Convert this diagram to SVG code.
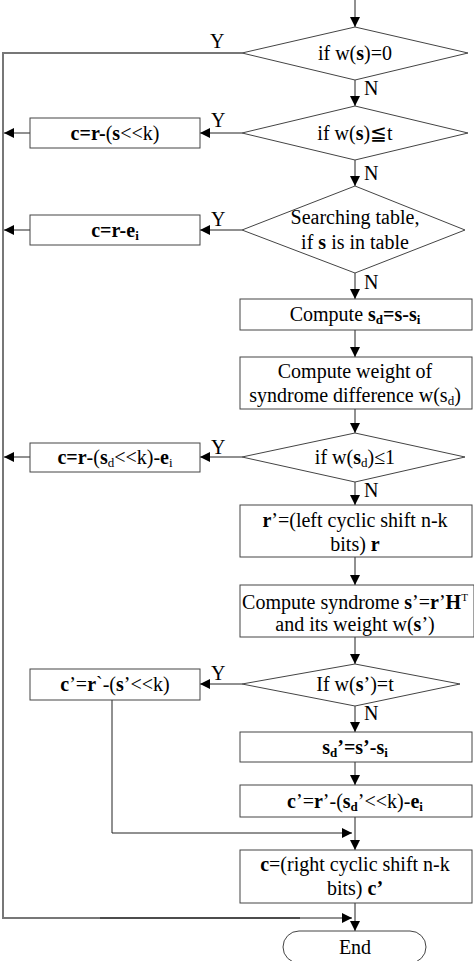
<svg xmlns="http://www.w3.org/2000/svg" width="474" height="961" viewBox="0 0 474 961">
<defs>
<marker id="ah" viewBox="0 0 10 10" refX="10" refY="5" markerWidth="10" markerHeight="10" markerUnits="userSpaceOnUse" orient="auto">
<path d="M0,0 L10,5 L0,10 z" fill="#000"/>
</marker>
</defs>
<style>
.n{fill:#fff;stroke:#444;stroke-width:1}
.t{font-family:"Liberation Serif",serif;font-size:20px;fill:#000;text-anchor:middle}
.l{font-family:"Liberation Serif",serif;font-size:20px;fill:#000}
.b{font-weight:bold}
.c{fill:none;stroke:#222;stroke-width:1}
.g{fill:none;stroke:#777;stroke-width:2}
</style>
<rect width="474" height="961" fill="#fff"/>
<g id="connectors">
<line class="c" x1="355" y1="0" x2="355" y2="27" marker-end="url(#ah)"/>
<polyline class="g" points="242,53 3,53 3,918 300,918"/>
<line class="c" x1="100" y1="918" x2="352" y2="918" marker-end="url(#ah)"/>
<line class="c" x1="355" y1="80" x2="355" y2="106" marker-end="url(#ah)"/>
<line class="c" x1="242" y1="133" x2="200" y2="133" marker-end="url(#ah)"/>
<line class="c" x1="30" y1="133" x2="4" y2="133" marker-end="url(#ah)"/>
<line class="c" x1="355" y1="160" x2="355" y2="186" marker-end="url(#ah)"/>
<line class="c" x1="242" y1="230" x2="200" y2="230" marker-end="url(#ah)"/>
<line class="c" x1="30" y1="230" x2="4" y2="230" marker-end="url(#ah)"/>
<line class="c" x1="355" y1="273" x2="355" y2="299" marker-end="url(#ah)"/>
<line class="c" x1="355" y1="330" x2="355" y2="357" marker-end="url(#ah)"/>
<line class="c" x1="355" y1="409" x2="355" y2="433" marker-end="url(#ah)"/>
<line class="c" x1="242" y1="457" x2="200" y2="457" marker-end="url(#ah)"/>
<line class="c" x1="30" y1="457" x2="4" y2="457" marker-end="url(#ah)"/>
<line class="c" x1="355" y1="482" x2="355" y2="505" marker-end="url(#ah)"/>
<line class="c" x1="355" y1="557" x2="355" y2="585" marker-end="url(#ah)"/>
<line class="c" x1="355" y1="637" x2="355" y2="664" marker-end="url(#ah)"/>
<line class="c" x1="242" y1="684" x2="200" y2="684" marker-end="url(#ah)"/>
<line class="c" x1="355" y1="706" x2="355" y2="732" marker-end="url(#ah)"/>
<line class="c" x1="355" y1="762" x2="355" y2="785" marker-end="url(#ah)"/>
<line class="c" x1="355" y1="817" x2="355" y2="850" marker-end="url(#ah)"/>
<polyline class="c" points="112,700 112,833 352,833" marker-end="url(#ah)"/>
<line class="c" x1="355" y1="903" x2="355" y2="931" marker-end="url(#ah)"/>
<text class="l" x="210" y="48">Y</text>
<text class="l" x="211" y="127">Y</text>
<text class="l" x="211" y="226">Y</text>
<text class="l" x="211" y="454">Y</text>
<text class="l" x="211" y="680">Y</text>
<text class="l" x="364" y="95">N</text>
<text class="l" x="364" y="180">N</text>
<text class="l" x="364" y="289">N</text>
<text class="l" x="364" y="497">N</text>
<text class="l" x="364" y="720">N</text>
</g>
<g id="d1">
<polygon class="n" points="242,53 355,27 468,53 355,80"/>
<text class="t" x="355" y="60">if w(<tspan class="b">s</tspan>)=0</text>
</g>
<g id="d2">
<polygon class="n" points="242,133 355,106 468,133 355,160"/>
<text class="t" x="355" y="140">if w(<tspan class="b">s</tspan>)≦t</text>
</g>
<g id="b1">
<rect class="n" x="30" y="118" width="170" height="30"/>
<text class="t" x="115" y="140"><tspan class="b">c=r-</tspan>(<tspan class="b">s</tspan>&lt;&lt;k)</text>
</g>
<g id="d3">
<polygon class="n" points="242,230 355,186 465,230 355,273"/>
<text class="t" x="355" y="224">Searching table,</text>
<text class="t" x="355" y="249">if <tspan class="b">s</tspan> is in table</text>
</g>
<g id="b2">
<rect class="n" x="30" y="215" width="170" height="30"/>
<text class="t" x="115" y="237"><tspan class="b">c=r-e<tspan font-size="13" dy="3">i</tspan></tspan></text>
</g>
<g id="p1">
<rect class="n" x="240" y="299" width="232" height="31"/>
<text class="t" x="355" y="321">Compute <tspan class="b">s<tspan font-size="13" dy="3">d</tspan><tspan dy="-3">=s-s</tspan><tspan font-size="13" dy="3">i</tspan></tspan></text>
</g>
<g id="p2">
<rect class="n" x="240" y="357" width="232" height="52"/>
<text class="t" x="355" y="378">Compute weight of</text>
<text class="t" x="355" y="402">syndrome difference w(s<tspan font-size="13" dy="3">d</tspan><tspan dy="-3">)</tspan></text>
</g>
<g id="d4">
<polygon class="n" points="242,457 355,433 465,457 355,482"/>
<text class="t" x="355" y="464">if w(<tspan class="b">s</tspan><tspan font-size="13" dy="3">d</tspan><tspan dy="-3">)≤1</tspan></text>
</g>
<g id="b3">
<rect class="n" x="30" y="443" width="170" height="29"/>
<text class="t" x="115" y="464"><tspan class="b">c=r</tspan>-(<tspan class="b">s</tspan><tspan font-size="13" dy="3">d</tspan><tspan dy="-3">&lt;&lt;k)-</tspan><tspan class="b">e</tspan><tspan font-size="13" dy="3">i</tspan></text>
</g>
<g id="p3">
<rect class="n" x="240" y="505" width="232" height="52"/>
<text class="t" x="355" y="527"><tspan class="b">r</tspan>’=(left cyclic shift n-k</text>
<text class="t" x="355" y="551">bits) <tspan class="b">r</tspan></text>
</g>
<g id="p4">
<rect class="n" x="240" y="585" width="234" height="52"/>
<text class="t" x="355" y="609">Compute syndrome <tspan class="b">s</tspan>’=<tspan class="b">r</tspan>’<tspan class="b">H</tspan><tspan font-size="11" dy="-8">T</tspan></text>
<text class="t" x="355" y="631">and its weight w(<tspan class="b">s</tspan>’)</text>
</g>
<g id="d5">
<polygon class="n" points="242,684 355,664 460,684 355,706"/>
<text class="t" x="355" y="691">If w(<tspan class="b">s</tspan>’)=t</text>
</g>
<g id="b4">
<rect class="n" x="30" y="669" width="170" height="31"/>
<text class="t" x="115" y="691"><tspan class="b">c</tspan>’=<tspan class="b">r</tspan>`-(<tspan class="b">s</tspan>’&lt;&lt;k)</text>
</g>
<g id="p5">
<rect class="n" x="240" y="732" width="232" height="30"/>
<text class="t b" x="355" y="754">s<tspan font-size="13" dy="3">d</tspan><tspan dy="-3">’=s’-s</tspan><tspan font-size="13" dy="3">i</tspan></text>
</g>
<g id="p6">
<rect class="n" x="240" y="785" width="232" height="32"/>
<text class="t" x="355" y="808"><tspan class="b">c</tspan>’=<tspan class="b">r</tspan>’-(<tspan class="b">s<tspan font-size="13" dy="3">d</tspan></tspan><tspan dy="-3">’&lt;&lt;k)-</tspan><tspan class="b">e</tspan><tspan class="b" font-size="13" dy="3">i</tspan></text>
</g>
<g id="p7">
<rect class="n" x="240" y="850" width="232" height="53"/>
<text class="t" x="355" y="871"><tspan class="b">c</tspan>=(right cyclic shift n-k</text>
<text class="t" x="355" y="895">bits) <tspan class="b">c’</tspan></text>
</g>
<g id="end">
<rect class="n" x="283" y="931" width="143" height="32" rx="16" ry="16"/>
<text class="t" x="355" y="954">End</text>
</g>
</svg>
